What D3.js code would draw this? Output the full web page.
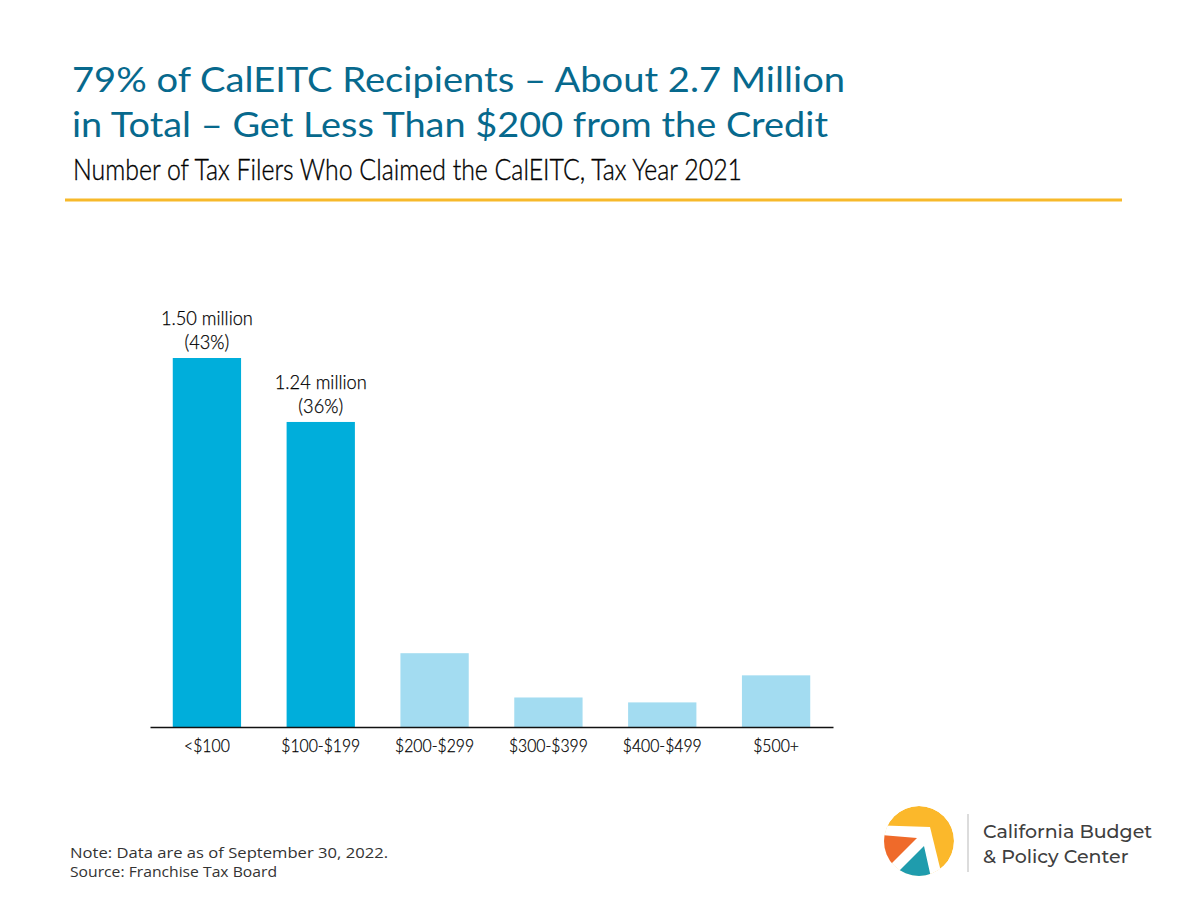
<!DOCTYPE html>
<html><head><meta charset="utf-8">
<script src="https://cdn.jsdelivr.net/npm/d3@7"></script>
<style>body{margin:0;background:#fff}</style>
</head><body>
<svg id="c" width="1200" height="900"></svg>
<script>
const categories = ["<$100","$100-$199","$200-$299","$300-$399","$400-$499","$500+"];
const values = [1.50,1.24,0.30,0.12,0.10,0.21];
const highlight = [true,true,false,false,false,false];
const barLabels = [["1.50 million","(43%)"],["1.24 million","(36%)"],null,null,null,null];

const svg = d3.select("#c");
const cond = "Lato,'Open Sans',sans-serif";
const sans = "'Open Sans',Lato,sans-serif";

function fit(sel, w){ sel.attr("textLength", w).attr("lengthAdjust","spacingAndGlyphs"); return sel; }
function squeeze(sel, k){ sel.each(function(){ const n=this.getComputedTextLength(); d3.select(this).attr("textLength", n*k).attr("lengthAdjust","spacingAndGlyphs"); }); }

// Title
fit(svg.append("text").attr("x",72).attr("y",92).attr("font-family","Lato,sans-serif").attr("font-size",34)
  .attr("fill","#07698d").text("79% of CalEITC Recipients \u2013 About 2.7 Million"),773);
fit(svg.append("text").attr("x",72).attr("y",137).attr("font-family","Lato,sans-serif").attr("font-size",34)
  .attr("fill","#07698d").text("in Total \u2013 Get Less Than $200 from the Credit"),756);
fit(svg.append("text").attr("x",73).attr("y",180).attr("font-family",cond).attr("font-weight",300).attr("font-size",29)
  .attr("fill","#000").attr("stroke","#000").attr("stroke-width",0.35)
  .text("Number of Tax Filers Who Claimed the CalEITC, Tax Year 2021"),669);
svg.append("line").attr("x1",65).attr("x2",1122).attr("y1",200).attr("y2",200)
  .attr("stroke","#f7b92b").attr("stroke-width",3);

// Chart
const x = d3.scaleBand().domain(categories).range([150,833]).paddingInner(0.4).paddingOuter(0.2);
const y = d3.scaleLinear().domain([0,1.5]).range([727,358]);

const g = svg.append("g");
g.selectAll("rect").data(categories).join("rect")
  .attr("x",d=>x(d)).attr("width",x.bandwidth())
  .attr("y",(d,i)=>y(values[i])).attr("height",(d,i)=>y(0)-y(values[i]))
  .attr("fill",(d,i)=>highlight[i]?"#00aedb":"#a3dcf1");

const lbls = [];
categories.forEach((c,i)=>{
  if(!barLabels[i]) return;
  barLabels[i].forEach((s,j)=>{
    lbls.push(g.append("text").attr("text-anchor","middle").attr("font-family",cond).attr("font-weight",300)
      .attr("font-size",19.5).attr("fill","#000").attr("stroke","#000").attr("stroke-width",0.25)
      .attr("x",x(c)+x.bandwidth()/2).attr("y",y(values[i])-33+j*24).text(s).node());
  });
});
const k1 = 92/lbls[0].getComputedTextLength();
squeeze(d3.selectAll(lbls), k1);

const ax = svg.append("g").attr("transform","translate(0,727)")
  .call(d3.axisBottom(x).tickSize(0).tickPadding(12));
ax.select(".domain").attr("stroke","#111").attr("stroke-width",1.5);
const tl = ax.selectAll("text").attr("font-family",cond).attr("font-weight",300).attr("font-size",18.5)
  .attr("fill","#000").attr("stroke","#000").attr("stroke-width",0.25).attr("dy","0.71em");
const k2 = 79/tl.nodes()[1].getComputedTextLength();
squeeze(tl, k2);

// Notes
fit(svg.append("text").attr("x",70).attr("y",858).attr("font-family",sans).attr("font-size",15)
  .attr("fill","#333").text("Note: Data are as of September 30, 2022."),318);
fit(svg.append("text").attr("x",70).attr("y",877).attr("font-family",sans).attr("font-size",15)
  .attr("fill","#333").text("Source: Franchise Tax Board"),207);

// Logo
const lg = svg.append("g");
const cx=919, cy=841, r=35;
lg.append("defs").append("clipPath").attr("id","lc").append("circle").attr("cx",cx).attr("cy",cy).attr("r",r);
const cl = lg.append("g").attr("clip-path","url(#lc)");
cl.append("circle").attr("cx",cx).attr("cy",cy).attr("r",r).attr("fill","#fbb82b");
cl.append("polygon").attr("points","870,825 930,827 943,880 870,880").attr("fill","#fff");
cl.append("polygon").attr("points","870,834 917,838 887,868 870,868").attr("fill","#ef6a2a");
cl.append("polygon").attr("points","924,846 932,882 880,882 896,874").attr("fill","#1f9cad");
lg.append("line").attr("x1",968).attr("x2",968).attr("y1",814).attr("y2",872).attr("stroke","#d0d0d0").attr("stroke-width",1.5);
lg.append("text").attr("x",983).attr("y",838).attr("font-family","Montserrat,'Open Sans',sans-serif").attr("font-weight",500)
  .attr("font-size",19).attr("fill","#3f3f3f").text("California Budget");
lg.append("text").attr("x",983).attr("y",863).attr("font-family","Montserrat,'Open Sans',sans-serif").attr("font-weight",500)
  .attr("font-size",19).attr("fill","#3f3f3f").text("& Policy Center");
</script>
</body></html>
